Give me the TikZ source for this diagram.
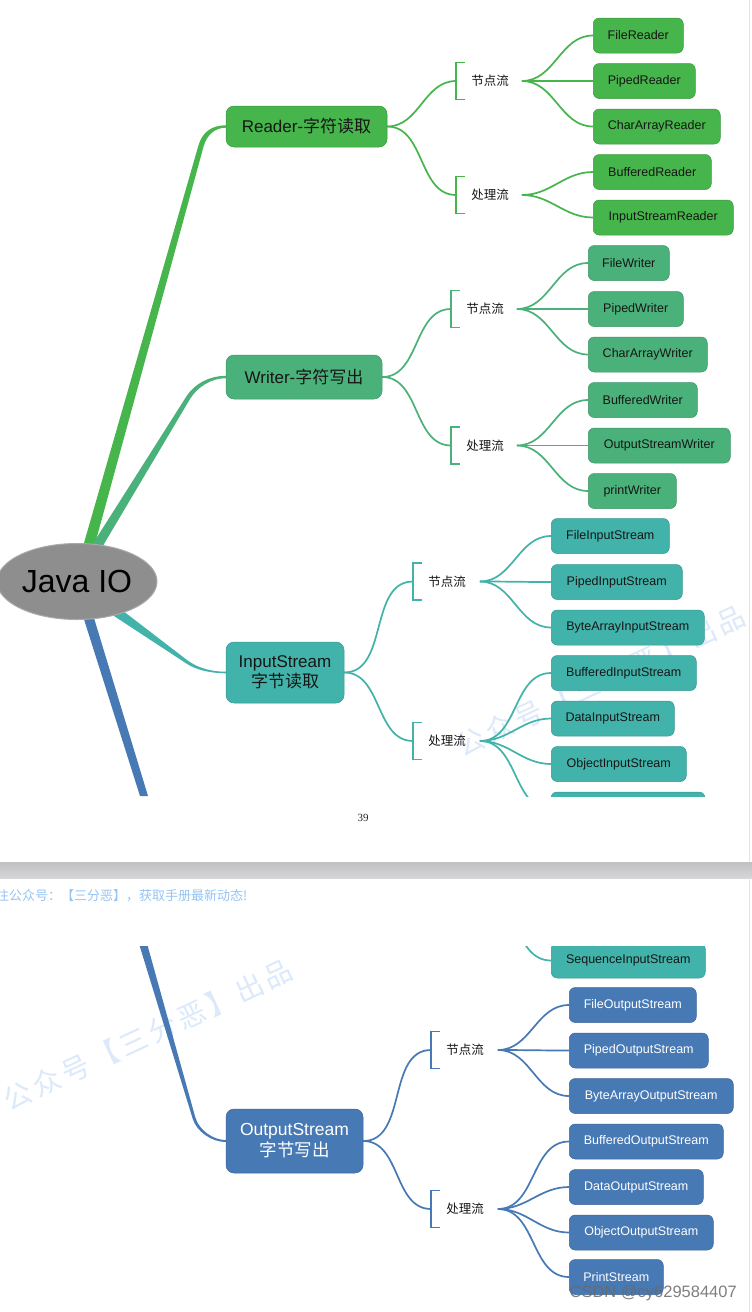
\documentclass[tikz,border=0pt]{standalone}
\usepackage{fontspec}
\setmainfont{Liberation Sans}
\newfontfamily\cjk{Noto Sans CJK SC}
\newfontfamily\wmfont[LetterSpace=14]{Noto Sans CJK SC}
\newfontfamily\pgnum{Liberation Serif}
\usetikzlibrary{shapes.geometric}
\definecolor{cR}{RGB}{70,181,75}
\definecolor{cW}{RGB}{74,177,122}
\definecolor{cI}{RGB}{65,179,170}
\definecolor{cO}{RGB}{71,121,181}
\definecolor{txt}{RGB}{22,22,22}
\definecolor{jgray}{RGB}{142,142,142}
\definecolor{wmc}{RGB}{220,233,250}
\definecolor{hdrc}{RGB}{150,196,245}
\definecolor{bandc}{RGB}{214,214,216}
\definecolor{csdnc}{RGB}{105,105,105}
\pgfdeclarelayer{back}
\pgfdeclarelayer{edges}
\pgfsetlayers{back,edges,main}
\newcommand\kid[5]{\node[#1, minimum width=#4pt] (#2) at (#3) {#5};}
\newcommand\bracketmark[2]{%
  \draw[brk=#1] ([xshift=-6pt,yshift=18.5pt]#2.west) -- ([xshift=-15pt,yshift=18.5pt]#2.west)
     -- ([xshift=-15pt,yshift=-18.5pt]#2.west) -- ([xshift=-6pt,yshift=-18.5pt]#2.west);
  \coordinate (#2b) at ([xshift=-15pt]#2.west);}
\tikzset{
  cbox/.style={rounded corners=6pt, fill=#1, draw=#1!85!black, line width=0.5pt,
    minimum height=35pt, inner xsep=6pt, inner ysep=0pt, anchor=west,
    font=\fontsize{12.5}{14}\selectfont, text=txt},
  topbox/.style={rounded corners=8pt, fill=#1, draw=#1!85!black, line width=0.5pt,
    inner sep=0pt, align=center, font=\fontsize{17}{20}\selectfont, text=txt},
  lab/.style={inner sep=0pt, font=\cjk\fontsize{12.5}{14}\selectfont, text=txt},
  conn/.style={draw=#1, line width=1.7pt},
  brk/.style={draw=#1, line width=1.6pt, line join=miter},
  wm/.style={inner sep=0pt, font=\wmfont\fontsize{28}{30}\selectfont, text=wmc},
}
\begin{document}
\begin{tikzpicture}[x=1pt,y=-1pt]
\useasboundingbox (0,0) rectangle (752,1312);
\begin{pgfonlayer}{back}
  \fill[white] (0,0) rectangle (752,1312);
  \shade[top color=bandc!90!black, bottom color=bandc] (0,862) rectangle (752,878);
  \draw[gray!22, line width=0.8pt] (749,0) -- (749,862) (749,878) -- (749,1312);
  \node[wm, rotate=25] (wm1) at (601,681) {公众号【三分恶】出品};
  \node[wm, rotate=25] (wm2) at (148,1035) {公众号【三分恶】出品};
\end{pgfonlayer}

% ---------- root ----------
\node[ellipse, fill=jgray, draw=jgray!75!white, line width=1pt, minimum width=160pt,
      minimum height=76pt, inner sep=0pt, font=\fontsize{32}{36}\selectfont, text=black]
      (jio) at (77,581.5) {Java IO};

% ---------- level 1 ----------
\node[topbox=cR, minimum width=161pt, minimum height=41pt] (reader) at (306.5,126.5) {Reader-{\cjk 字符读取}};
\node[topbox=cW, minimum width=156pt, minimum height=44pt] (writer) at (304,377) {Writer-{\cjk 字符写出}};
\node[topbox=cI, minimum width=118pt, minimum height=61pt] (istream) at (285,672.5) {InputStream\\{\cjk 字节读取}};
\node[topbox=cO, text=white, minimum width=137pt, minimum height=64pt, font=\fontsize{17.5}{21}\selectfont]
      (ostream) at (294.5,1141) {OutputStream\\{\cjk 字节写出}};

% ---------- level 2 labels ----------
\node[lab] (lR1) at (490,81) {节点流};
\node[lab] (lR2) at (490,195) {处理流};
\node[lab] (lW1) at (485,309) {节点流};
\node[lab] (lW2) at (485,445.5) {处理流};
\node[lab] (lI1) at (447,581.5) {节点流};
\node[lab] (lI2) at (447,741) {处理流};
\node[lab] (lO1) at (465,1050) {节点流};
\node[lab] (lO2) at (465,1209) {处理流};

% ---------- leaves: Reader ----------
\kid{cbox=cR}{fr}{593,35.5}{90}{FileReader}
\kid{cbox=cR}{pr}{593,81}{102}{PipedReader}
\kid{cbox=cR}{car}{593,126.5}{127}{CharArrayReader}
\kid{cbox=cR}{br}{593,172}{118}{BufferedReader}
\kid{cbox=cR}{isr}{593,217.5}{140}{InputStreamReader}
% ---------- leaves: Writer ----------
\kid{cbox=cW}{fw}{588,263}{81}{FileWriter}
\kid{cbox=cW}{pw}{588,309}{95}{PipedWriter}
\kid{cbox=cW}{caw}{588,354.5}{119}{CharArrayWriter}
\kid{cbox=cW}{bw}{588,400}{109}{BufferedWriter}
\kid{cbox=cW}{osw}{588,445.5}{142}{OutputStreamWriter}
\kid{cbox=cW}{prw}{588,491}{88}{printWriter}
% ---------- leaves: InputStream ----------
\kid{cbox=cI}{fis}{551,536}{118}{FileInputStream}
\kid{cbox=cI}{pis}{551,582}{131}{PipedInputStream}
\kid{cbox=cI}{bais}{551,627.5}{153}{ByteArrayInputStream}
\kid{cbox=cI}{bis}{551,673}{145}{BufferedInputStream}
\kid{cbox=cI}{dis}{551,718.5}{123}{DataInputStream}
\kid{cbox=cI}{ois}{551,764}{135}{ObjectInputStream}
\begin{scope}
  \clip (0,0) rectangle (752,796);
  \fill[cI, draw=cI!85!black, line width=0.5pt, rounded corners=6pt] (551,792) rectangle (705,827);
\end{scope}
\begin{scope}
  \clip (0,946) rectangle (752,1312);
  \kid{cbox=cI}{seq}{551,960.5}{154}{SequenceInputStream}
\end{scope}
% ---------- leaves: OutputStream ----------
\kid{cbox=cO,text=white}{fos}{569,1005}{127}{FileOutputStream}
\kid{cbox=cO,text=white}{pos}{569,1050.5}{139}{PipedOutputStream}
\kid{cbox=cO,text=white}{baos}{569,1096}{164}{ByteArrayOutputStream}
\kid{cbox=cO,text=white}{bos}{569,1141.5}{154}{BufferedOutputStream}
\kid{cbox=cO,text=white}{dos}{569,1187}{134}{DataOutputStream}
\kid{cbox=cO,text=white}{oos}{569,1232.5}{144}{ObjectOutputStream}
\kid{cbox=cO,text=white}{ps}{569,1277}{94}{PrintStream}

% ---------- page furniture ----------
\node[font=\pgnum\fontsize{11}{12}\selectfont, text=black!85] (pgno) at (363,818) {39};
\node[anchor=west, inner sep=0pt, font=\cjk\fontsize{13}{15}\selectfont, text=hdrc] (hdr) at (-4,896)
      {注公众号：【三分恶】，获取手册最新动态!};
\node[anchor=east, inner sep=0pt, font=\fontsize{16.5}{18}\selectfont, text=csdnc, opacity=0.85] (csdn)
      at (737,1293) {CSDN @cy629584407};

\coordinate (seqA) at (551,809.5);
\coordinate (seqB) at ([xshift=14pt,yshift=-151pt]lI2.east);

% ---------- connectors ----------
\begin{pgfonlayer}{edges}
  % thick main branches
  \fill[cR] (80.7,554.5) -- (198.5,145.3) .. controls (202.2,132.7) and (211,125.3) ..
     ([yshift=1.2pt]reader.west) -- ([yshift=-1.2pt]reader.west) .. controls (214,127.7) and (206.5,136.0) ..
     (203.5,146.7) -- (91.3,557.5) -- cycle;
  \fill[cW] (86.7,553.4) -- (186.1,396.85) .. controls (194.6,383.3) and (210,375.8) ..
     ([yshift=1.2pt]writer.west) -- ([yshift=-1.2pt]writer.west) .. controls (211,378.2) and (197.2,387.2) ..
     (189.9,399.15) -- (95.3,558.6) -- cycle;
  \fill[cI] (113.9,603.9) -- (187.9,660.7) .. controls (199.3,668.8) and (213,671.7) ..
     ([yshift=0.8pt]istream.west) -- ([yshift=-0.8pt]istream.west) .. controls (212,673.3) and (195.9,670.2) ..
     (186.1,663.3) -- (108.1,612.1) -- cycle;
  \fill[cO] (81.2,610.5) -- (140,796) -- (148,796) -- (90.8,607.5) -- cycle;
  \fill[cO] (139.7,946) -- (192.6,1118.4) .. controls (196.5,1131.8) and (212,1142) ..
     ([yshift=-1pt]ostream.west) -- ([yshift=1pt]ostream.west) .. controls (213,1140) and (199.1,1130.1) ..
     (195.4,1117.6) -- (147.7,946) -- cycle;

  % brackets
  \bracketmark{cR}{lR1} \bracketmark{cR}{lR2}
  \bracketmark{cW}{lW1} \bracketmark{cW}{lW2}
  \bracketmark{cI}{lI1} \bracketmark{cI}{lI2}
  \bracketmark{cO}{lO1} \bracketmark{cO}{lO2}

  % level1 -> brackets
  \draw[conn=cR] (reader.east) to[out=0,in=180] (lR1b);
  \draw[conn=cR] (reader.east) to[out=0,in=180] (lR2b);
  \draw[conn=cW] (writer.east) to[out=0,in=180] (lW1b);
  \draw[conn=cW] (writer.east) to[out=0,in=180] (lW2b);
  \draw[conn=cI] (istream.east) to[out=0,in=180] (lI1b);
  \draw[conn=cI] (istream.east) to[out=0,in=180] (lI2b);
  \draw[conn=cO] (ostream.east) to[out=0,in=180] (lO1b);
  \draw[conn=cO] (ostream.east) to[out=0,in=180] (lO2b);

  % fans
  \foreach \k in {fr,pr,car} \draw[conn=cR] ([xshift=13pt]lR1.east) to[out=0,in=180] (\k.west);
  \foreach \k in {br,isr} \draw[conn=cR] ([xshift=13pt]lR2.east) to[out=0,in=180] (\k.west);
  \foreach \k in {fw,pw,caw} \draw[conn=cW] ([xshift=13pt]lW1.east) to[out=0,in=180] (\k.west);
  \foreach \k in {bw,osw,prw} \draw[conn=cW] ([xshift=13pt]lW2.east) to[out=0,in=180] (\k.west);
  \foreach \k in {fis,pis,bais} \draw[conn=cI] ([xshift=14pt]lI1.east) to[out=0,in=180] (\k.west);
  \foreach \k in {bis,dis,ois} \draw[conn=cI] ([xshift=14pt]lI2.east) to[out=0,in=180] (\k.west);
  \begin{scope}
    \clip (0,0) rectangle (752,796);
    \draw[conn=cI] ([xshift=14pt]lI2.east) to[out=0,in=180] (seqA);
  \end{scope}
  \begin{scope}
    \clip (0,946) rectangle (752,1312);
    \draw[conn=cI] (seqB) to[out=0,in=180] (seq.west);
  \end{scope}
  \foreach \k in {fos,pos,baos} \draw[conn=cO] ([xshift=14pt]lO1.east) to[out=0,in=180] (\k.west);
  \foreach \k in {bos,dos,oos,ps} \draw[conn=cO] ([xshift=14pt]lO2.east) to[out=0,in=180] (\k.west);
\end{pgfonlayer}
\end{tikzpicture}
\end{document}
